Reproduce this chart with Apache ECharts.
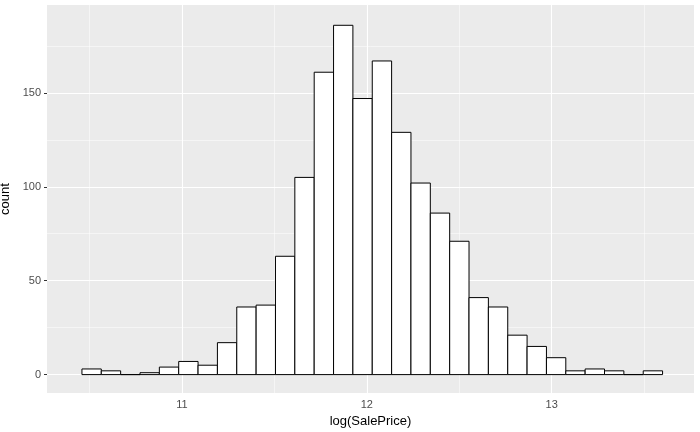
<!DOCTYPE html>
<html>
<head>
<meta charset="utf-8">
<script src="https://cdn.jsdelivr.net/npm/echarts@6/dist/echarts.min.js"></script>
<style>html,body{margin:0;padding:0;background:#fff}#chart{width:700px;height:432px}</style>
</head>
<body>
<div id="chart"></div>
<script>
// histogram of log(SalePrice), 30 bins
const binStart = 10.459;
const binWidth = 0.1047;
const counts = [3, 2, 0, 1, 4, 7, 5, 17, 36, 37, 63, 105, 161, 186, 147, 167, 129, 102, 86, 71, 41, 36, 21, 15, 9, 2, 3, 2, 0, 2];
const xTicks = [11, 12, 13];
const xMinor = [10.5, 11.5, 12.5, 13.5];
const yTicks = [0, 50, 100, 150];
const yMinor = [25, 75, 125, 175];

const bins = counts.map((c, i) => [binStart + i * binWidth, binStart + (i + 1) * binWidth, c]);

const gridLines = [];
xTicks.forEach(v => gridLines.push({ xAxis: v, lineStyle: { width: 1.1 } }));
xMinor.forEach(v => gridLines.push({ xAxis: v, lineStyle: { width: 0.5 } }));
yTicks.forEach(v => gridLines.push({ yAxis: v, lineStyle: { width: 1.1 } }));
yMinor.forEach(v => gridLines.push({ yAxis: v, lineStyle: { width: 0.5 } }));

const chart = echarts.init(document.getElementById('chart'));
const axisCommon = {
  axisLine: { show: false },
  splitLine: { show: false },
  axisTick: { show: true, length: 3, lineStyle: { color: '#333' } },
  axisLabel: { color: '#4d4d4d', fontSize: 11, fontFamily: 'Arial, Liberation Sans' },
  nameTextStyle: { color: '#000', fontSize: 13, fontFamily: 'Arial, Liberation Sans' }
};
chart.setOption({
  animation: false,
  grid: { left: 47, right: 6, top: 5, bottom: 39, containLabel: false, outerBoundsMode: 'none',
    show: true, backgroundColor: '#EBEBEB', borderWidth: 0 },
  xAxis: Object.assign({}, axisCommon, {
    type: 'value', min: 10.27, max: 13.77,
    name: 'log(SalePrice)', nameLocation: 'middle', nameGap: 22,
    axisTick: { show: true, length: 3, customValues: xTicks, lineStyle: { color: '#333' } },
    axisLabel: Object.assign({}, axisCommon.axisLabel, { customValues: xTicks, margin: 6 })
  }),
  yAxis: Object.assign({}, axisCommon, {
    type: 'value', min: -9.8, max: 196.8,
    name: 'count', nameLocation: 'middle', nameGap: 30, nameRotate: 90,
    axisTick: { show: true, length: 3, customValues: yTicks, lineStyle: { color: '#333' } },
    axisLabel: Object.assign({}, axisCommon.axisLabel, { customValues: yTicks, margin: 6 })
  }),
  series: [{
    type: 'line',
    data: [],
    z: 1,
    markLine: {
      silent: true, symbol: 'none', label: { show: false },
      lineStyle: { color: '#fff', type: 'solid' },
      data: gridLines
    }
  }, {
    type: 'custom',
    data: bins,
    z: 5,
    renderItem: function (params, api) {
      const p0 = api.coord([api.value(0), api.value(2)]);
      const p1 = api.coord([api.value(1), 0]);
      return {
        type: 'rect',
        shape: { x: p0[0], y: p0[1], width: p1[0] - p0[0], height: p1[1] - p0[1] },
        style: { fill: '#fff', stroke: '#000', lineWidth: 1 }
      };
    }
  }]
});
</script>
</body>
</html>
